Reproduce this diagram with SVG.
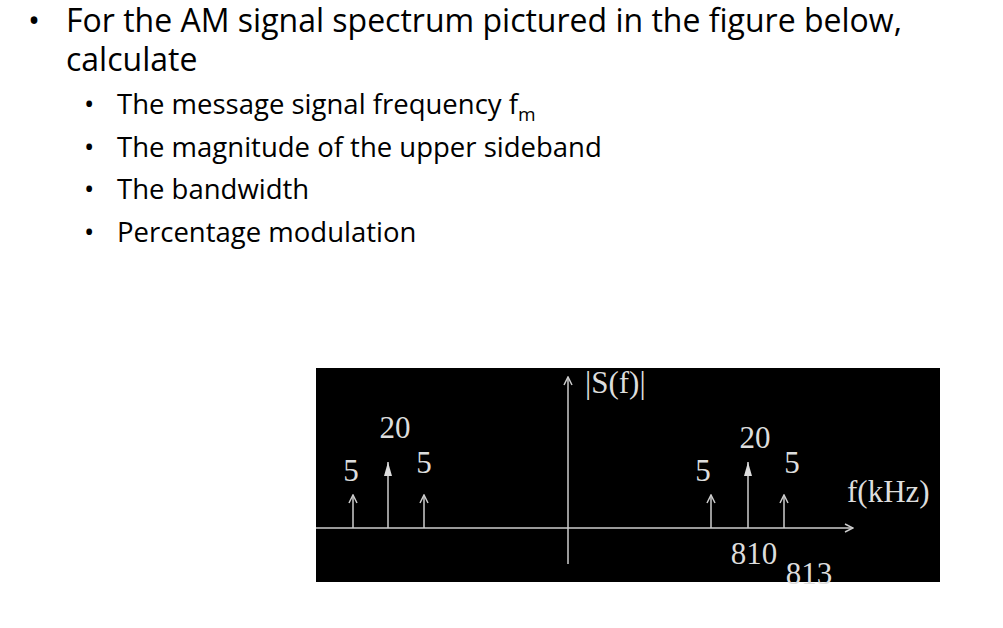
<svg xmlns="http://www.w3.org/2000/svg" width="1003" height="628" viewBox="0 0 1003 628">
<defs>
<style>
.t{font-family:"Open Sans","Liberation Sans",sans-serif;fill:#000}
.h{font-size:32px}
.s{font-size:27.5px}
.f{font-family:"Liberation Serif",serif;font-size:31px;fill:#ddd}
.l{stroke:#ccc;stroke-width:1.5;fill:none}
</style>
<marker id="a" markerWidth="10" markerHeight="10" refX="9" refY="5" orient="auto" markerUnits="userSpaceOnUse" viewBox="0 0 10 10"><path d="M1,1 L9,5 L1,9" stroke="#ccc" stroke-width="1.5" fill="none"/></marker>
<marker id="b" markerWidth="14" markerHeight="10" refX="14" refY="5" orient="auto" markerUnits="userSpaceOnUse" viewBox="0 0 14 10"><path d="M14,5 L0,1 L0,9 Z" fill="#ddd"/></marker>
</defs>
<rect width="1003" height="628" fill="#fff"/>
<g id="text">
<text class="t h" x="28" y="32">•</text>
<text class="t h" x="66" y="32">For the AM signal spectrum pictured in the figure below,</text>
<text class="t h" x="66" y="71">calculate</text>
<text class="t s" x="84" y="114">•</text><text class="t s" x="117" y="114">The message signal frequency f<tspan font-size="19" dy="7">m</tspan></text>
<text class="t s" x="84" y="157">•</text><text class="t s" x="117" y="157">The magnitude of the upper sideband</text>
<text class="t s" x="84" y="199">•</text><text class="t s" x="117" y="199">The bandwidth</text>
<text class="t s" x="84" y="242">•</text><text class="t s" x="117" y="242">Percentage modulation</text>
</g>
<g id="figure">
<rect x="316" y="368" width="624" height="214" fill="#000"/>
<g id="connectors">
<path class="l" d="M316,528 H853" marker-end="url(#a)"/>
<path class="l" d="M568,564 V377" marker-end="url(#a)"/>
<path class="l" d="M353,528 V495" marker-end="url(#a)"/>
<path class="l" d="M424,528 V495" marker-end="url(#a)"/>
<path class="l" d="M711,528 V495" marker-end="url(#a)"/>
<path class="l" d="M784,528 V495" marker-end="url(#a)"/>
<path class="l" d="M388,528 V462" marker-end="url(#b)"/>
<path class="l" d="M748,528 V462" marker-end="url(#b)"/>
</g>
<text class="f" x="585" y="393">|S(f)|</text>
<text class="f" x="351" y="481" text-anchor="middle">5</text>
<text class="f" x="395" y="438" text-anchor="middle">20</text>
<text class="f" x="424" y="473" text-anchor="middle">5</text>
<text class="f" x="703" y="481" text-anchor="middle">5</text>
<text class="f" x="755" y="448" text-anchor="middle">20</text>
<text class="f" x="792" y="473" text-anchor="middle">5</text>
<text class="f" x="847" y="502">f(kHz)</text>
<text class="f" x="754" y="564" text-anchor="middle">810</text>
<text class="f" x="809" y="584" text-anchor="middle">813</text>
</g>
</svg>
